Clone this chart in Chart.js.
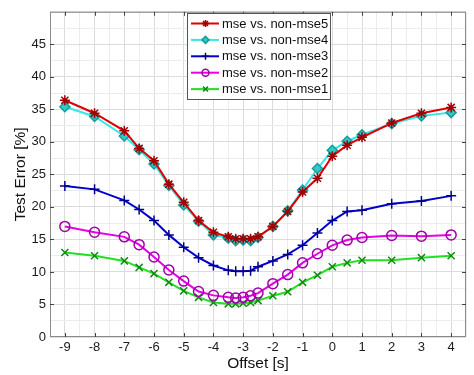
<!DOCTYPE html>
<html>
<head>
<meta charset="utf-8">
<script src="https://cdn.jsdelivr.net/npm/chart.js@4.4.0/dist/chart.umd.min.js"></script>
<style>
  html, body { margin: 0; padding: 0; background: #fff; }
  #wrap { width: 474px; height: 375px; }
</style>
</head>
<body>
<div id="wrap"><canvas id="myChart" width="474" height="375"></canvas></div>
<script>
const offsets = [-9, -8, -7, -6.5, -6, -5.5, -5, -4.5, -4, -3.5, -3.25, -3, -2.75, -2.5, -2, -1.5, -1, -0.5, 0, 0.5, 1, 2, 3, 4];

const mse5 = [36.4, 34.4, 31.7, 29.0, 27.1, 23.5, 20.7, 17.9, 16.1, 15.4, 15.1, 15.1, 15.1, 15.4, 17.0, 19.3, 22.3, 24.4, 27.8, 29.5, 30.7, 32.9, 34.4, 35.3];
const mse4 = [35.4, 33.9, 30.9, 28.8, 26.6, 23.3, 20.3, 17.8, 15.7, 15.2, 14.8, 14.9, 14.8, 15.3, 17.0, 19.4, 22.6, 25.9, 28.7, 30.1, 31.1, 32.8, 34.0, 34.5];
const mse3 = [23.2, 22.7, 21.0, 19.6, 17.9, 15.7, 13.8, 12.2, 11.0, 10.25, 10.1, 10.1, 10.2, 10.8, 11.7, 12.7, 14.1, 16.0, 17.9, 19.3, 19.5, 20.5, 20.9, 21.7];
const mse2 = [17.0, 16.1, 15.4, 14.2, 12.3, 10.3, 8.6, 7.0, 6.4, 6.1, 6.0, 6.1, 6.35, 6.75, 8.2, 9.6, 11.4, 12.8, 14.1, 14.9, 15.3, 15.6, 15.5, 15.7];
const mse1 = [13.0, 12.5, 11.7, 10.7, 9.75, 8.4, 7.1, 6.1, 5.3, 5.1, 5.1, 5.2, 5.3, 5.6, 6.35, 6.95, 8.4, 9.5, 10.8, 11.4, 11.8, 11.8, 12.2, 12.5];

const labels = ['mse vs. non-mse5', 'mse vs. non-mse4', 'mse vs. non-mse3', 'mse vs. non-mse2', 'mse vs. non-mse1'];

const font = "'Liberation Sans', Arial, Helvetica, sans-serif";

function series(vals) {
    return vals.map((v, i) => ({ x: offsets[i], y: v }));
}

function makeSet(label, vals, line, mark, fill, style) {
    return {
        label: label,
        data: series(vals),
        borderColor: line,
        borderWidth: 2,
        pointStyle: style,
        pointRadius: 5,
        pointBorderColor: mark,
        pointBackgroundColor: fill,
        pointBorderWidth: 1.5,
        tension: 0,
        fill: false
    };
}

const ctx = document.getElementById('myChart');

// legend inside the plot, MATLAB style
const innerLegend = {
    id: 'innerLegend',
    afterDraw(chart) {
        const c = chart.ctx;
        const area = chart.chartArea;
        // box border + inward ticks
        c.save();
        c.strokeStyle = '#8a8a8a';
        c.lineWidth = 1;
        c.strokeRect(area.left + 0.5, area.top + 0.5, area.right - area.left - 1, area.bottom - area.top - 1);
        const xs = chart.scales.x, ys = chart.scales.y;
        c.strokeStyle = '#444';
        c.beginPath();
        for (let v = -9; v <= 4; v++) {
            const px = Math.round(xs.getPixelForValue(v)) + 0.5;
            c.moveTo(px, area.bottom); c.lineTo(px, area.bottom - 4);
            c.moveTo(px, area.top); c.lineTo(px, area.top + 4);
        }
        for (let v = 5; v < 50; v += 5) {
            const py = Math.round(ys.getPixelForValue(v)) + 0.5;
            c.moveTo(area.left, py); c.lineTo(area.left + 4, py);
            c.moveTo(area.right, py); c.lineTo(area.right - 4, py);
        }
        c.stroke();

        const bx = 187, by = 13, bw = 143, bh = 86;
        c.fillStyle = '#fff';
        c.fillRect(bx, by, bw, bh);
        c.strokeStyle = '#555';
        c.strokeRect(bx + 0.5, by + 0.5, bw, bh);
        c.font = '13px ' + font;
        c.textBaseline = 'middle';
        chart.data.datasets.forEach((ds, i) => {
            const y = 23.5 + i * 16.4;
            c.strokeStyle = ds.borderColor;
            c.lineWidth = 2;
            c.beginPath();
            c.moveTo(191, y); c.lineTo(219, y);
            c.stroke();
            c.strokeStyle = ds.pointBorderColor;
            c.fillStyle = ds.pointBackgroundColor;
            c.lineWidth = 1.5;
            if (Chart.helpers && Chart.helpers.drawPoint) {
                Chart.helpers.drawPoint(c, { pointStyle: ds.pointStyle, radius: 3.5, rotation: 0, borderWidth: 1.5 }, 205.5, y);
            }
            c.fillStyle = '#111';
            c.fillText(ds.label, 222, y + 0.5);
        });
        c.restore();
    }
};

new Chart(ctx, {
    type: 'line',
    data: {
        datasets: [
            makeSet(labels[0], mse5, '#e00000', '#a00000', '#a00000', 'star'),
            makeSet(labels[1], mse4, '#33e8e8', '#1a9a9a', '#30c8c8', 'rectRot'),
            makeSet(labels[2], mse3, '#0000cc', '#000090', '#000090', 'cross'),
            makeSet(labels[3], mse2, '#e600e6', '#a000a8', 'rgba(0,0,0,0)', 'circle'),
            makeSet(labels[4], mse1, '#22e022', '#108a10', '#108a10', 'crossRot')
        ]
    },
    options: {
        responsive: false,
        animation: false,
        events: [],
        layout: { padding: { left: 0, top: 9, right: 8, bottom: 0 } },
        plugins: {
            legend: { display: false },
            tooltip: { enabled: false }
        },
        scales: {
            x: {
                type: 'linear',
                min: -9.5,
                max: 4.5,
                afterFit: s => { s.height = 38; },
                ticks: {
                    stepSize: 0.5,
                    autoSkip: false,
                    maxRotation: 0,
                    padding: 3,
                    color: '#1a1a1a',
                    font: { family: font, size: 13 },
                    callback: v => Number.isInteger(v) ? String(v) : ''
                },
                grid: {
                    drawTicks: false,
                    color: c => Number.isInteger(c.tick.value) ? '#dcdcdc' : '#ececec'
                },
                border: { display: false },
                title: {
                    display: true,
                    text: 'Offset [s]',
                    color: '#111',
                    font: { family: font, size: 15.5 },
                    padding: { top: 0, bottom: 2 }
                }
            },
            y: {
                min: 0,
                max: 50,
                afterFit: s => { s.width = 50; },
                ticks: {
                    stepSize: 2.5,
                    autoSkip: false,
                    padding: 4,
                    color: '#1a1a1a',
                    font: { family: font, size: 13 },
                    callback: v => (v % 5 === 0 && v < 50) ? String(v) : ''
                },
                grid: {
                    drawTicks: false,
                    color: c => (c.tick.value % 5 === 0) ? '#dcdcdc' : '#ececec'
                },
                border: { display: false },
                title: {
                    display: true,
                    text: 'Test Error [%]',
                    color: '#111',
                    font: { family: font, size: 15.5 },
                    padding: { top: 11, bottom: 0 }
                }
            }
        }
    },
    plugins: [innerLegend]
});
</script>
</body>
</html>
